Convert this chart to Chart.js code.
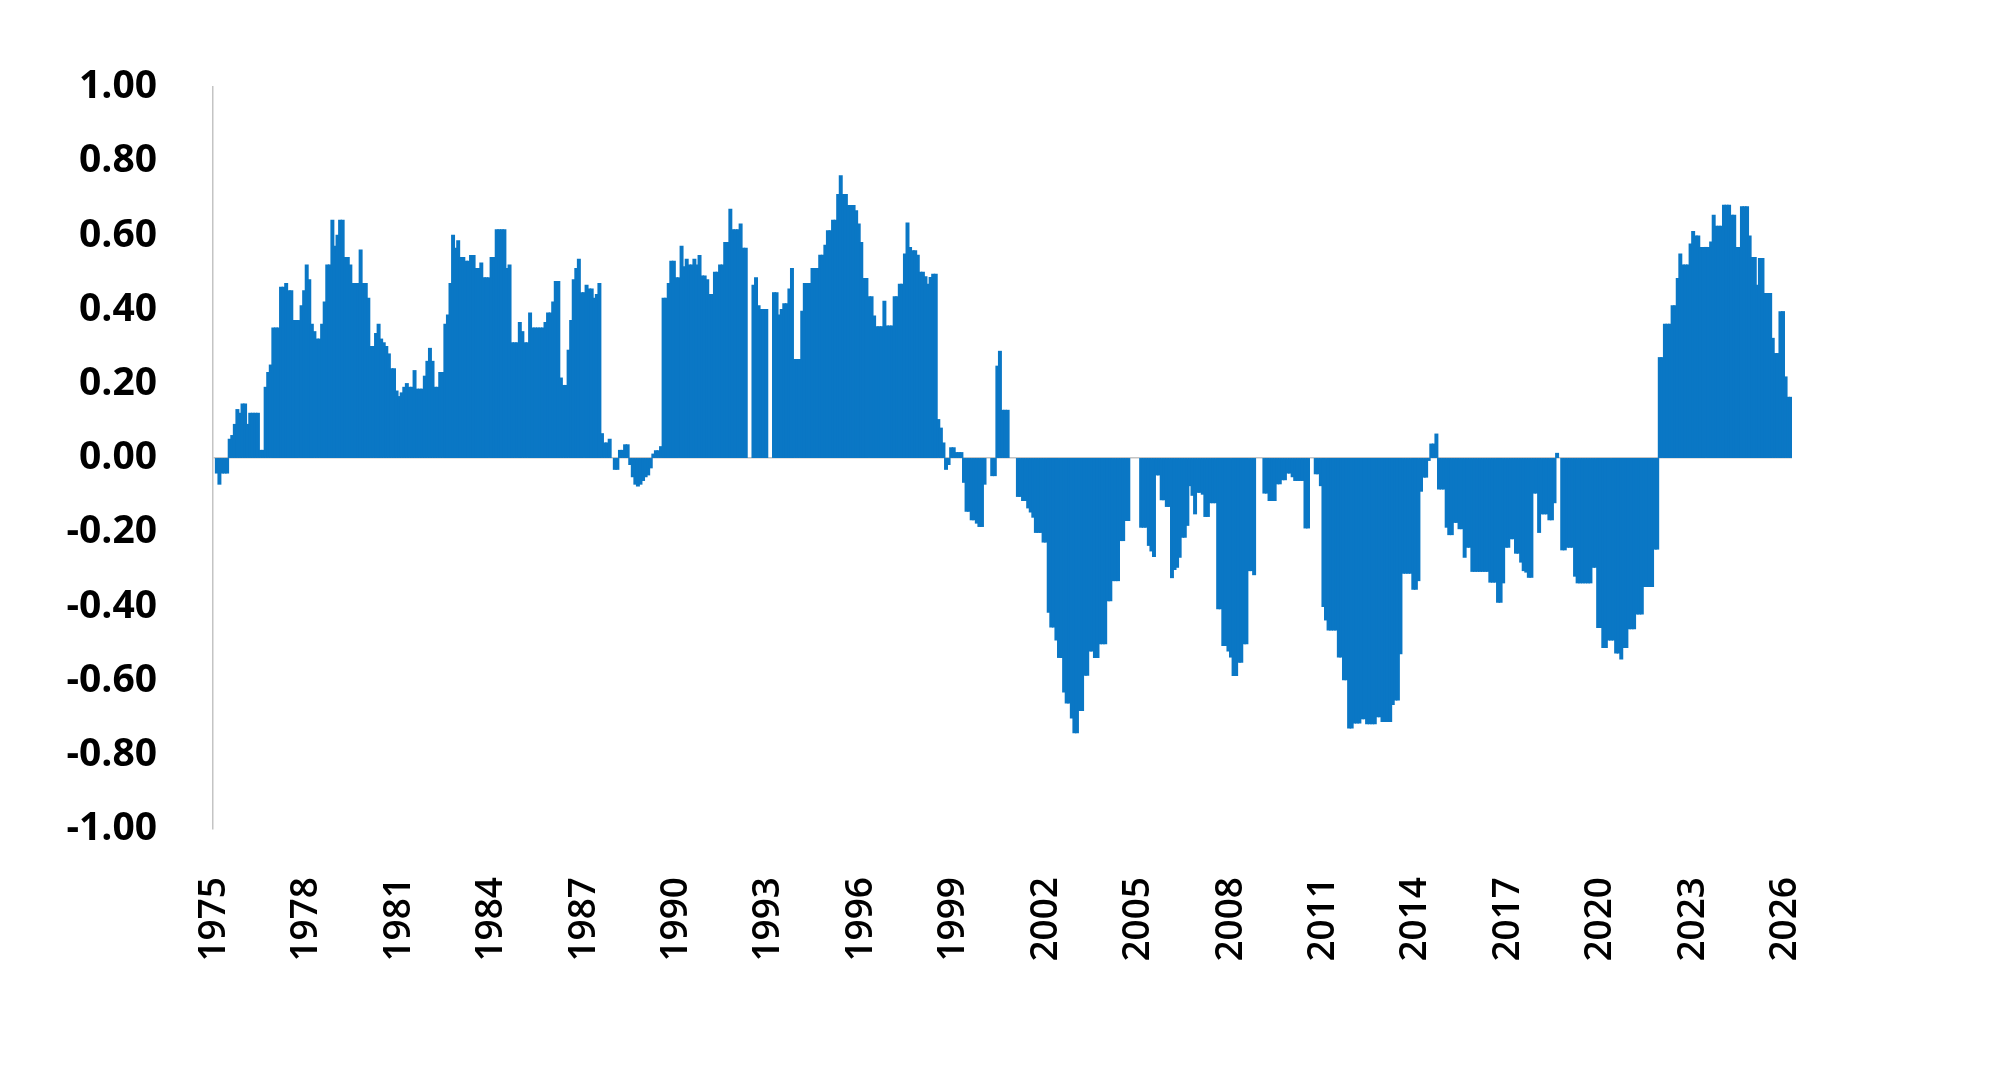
<!DOCTYPE html>
<html><head><meta charset="utf-8">
<script src="https://cdn.jsdelivr.net/npm/chart.js@4.4.1/dist/chart.umd.min.js"></script>
<style>html,body{margin:0;padding:0;background:#fff;} #wrap{width:2000px;height:1065px;}</style>
</head><body><div id="wrap"><canvas id="c" width="2000" height="1065"></canvas></div>
<script>
// Monthly values, Jan 1975 .. Mar 2026
const v1975_1979 = [
 0.00,-0.04,-0.07,-0.04,-0.04,-0.04,0.05,0.06,0.09,0.13,0.12,0.145,
 0.145,0.09,0.12,0.12,0.12,0.12,0.02,0.02,0.19,0.23,0.25,0.35,
 0.35,0.35,0.46,0.46,0.47,0.45,0.45,0.37,0.37,0.37,0.41,0.45,
 0.52,0.48,0.36,0.34,0.32,0.32,0.36,0.42,0.52,0.52,0.64,0.57,
 0.60,0.64,0.64,0.54,0.54,0.52,0.47,0.47,0.47,0.56,0.47,0.47
];
const v1980_1989 = [
 0.43,0.30,0.30,0.335,0.36,0.32,0.31,0.30,0.28,0.24,0.24,0.18,
 0.165,0.175,0.19,0.20,0.19,0.19,0.235,0.185,0.185,0.185,0.22,0.26,
 0.295,0.26,0.19,0.19,0.23,0.23,0.36,0.385,0.47,0.60,0.565,0.585,
 0.54,0.54,0.53,0.53,0.545,0.545,0.51,0.51,0.525,0.485,0.485,0.485,
 0.54,0.54,0.615,0.615,0.615,0.615,0.51,0.52,0.31,0.31,0.31,0.365,
 0.34,0.31,0.31,0.39,0.35,0.35,0.35,0.35,0.35,0.365,0.39,0.39,
 0.42,0.475,0.475,0.215,0.195,0.195,0.29,0.37,0.48,0.51,0.535,0.445,
 0.445,0.465,0.455,0.455,0.43,0.44,0.47,0.065,0.04,0.04,0.05,0,
 -0.03,-0.03,0.02,0.02,0.035,0.035,-0.017,-0.05,-0.07,-0.075,-0.07,-0.06,
 -0.05,-0.045,-0.026,0.01,0.019,0.019,0.03,0.43,0.43,0.47,0.53,0.53
];
const v1990_1999 = [
 0.485,0.485,0.57,0.515,0.535,0.52,0.52,0.535,0.52,0.545,0.49,0.49,
 0.48,0.44,0.44,0.50,0.50,0.52,0.52,0.58,0.58,0.67,0.615,0.615,
 0.615,0.63,0.565,0.565,0,0,0.465,0.485,0.41,0.40,0.40,0.40,
 0,0,0.445,0.445,0.385,0.40,0.415,0.415,0.455,0.51,0.265,0.265,
 0.265,0.395,0.47,0.47,0.47,0.51,0.51,0.51,0.546,0.546,0.573,0.612,
 0.612,0.64,0.64,0.71,0.76,0.71,0.71,0.68,0.68,0.68,0.666,0.63,
 0.58,0.483,0.483,0.434,0.434,0.382,0.353,0.353,0.353,0.422,0.355,0.355,
 0.355,0.434,0.434,0.468,0.468,0.549,0.633,0.567,0.558,0.558,0.546,0.50,
 0.50,0.488,0.468,0.486,0.495,0.495,0.103,0.08,0.04,-0.03,-0.017,0.027,
 0.027,0.014,0.014,0.014,-0.065,-0.143,-0.143,-0.166,-0.166,-0.175,-0.184,-0.184
];
const v2000_2009 = [
 -0.07,0,0,-0.047,-0.047,0.247,0.287,0.128,0.128,0.128,0,0,
 0,-0.103,-0.103,-0.114,-0.114,-0.134,-0.145,-0.159,-0.2,-0.2,-0.2,-0.226,
 -0.226,-0.415,-0.455,-0.455,-0.49,-0.537,-0.537,-0.63,-0.66,-0.66,-0.70,-0.74,
 -0.74,-0.68,-0.68,-0.585,-0.585,-0.52,-0.52,-0.537,-0.537,-0.50,-0.50,-0.50,
 -0.384,-0.384,-0.33,-0.33,-0.33,-0.222,-0.222,-0.168,-0.168,0,0,0,
 0,-0.186,-0.186,-0.186,-0.235,-0.25,-0.265,-0.045,-0.045,-0.112,-0.112,-0.13,
 -0.13,-0.322,-0.30,-0.294,-0.267,-0.213,-0.213,-0.181,-0.074,-0.10,-0.15,-0.092,
 -0.092,-0.097,-0.157,-0.157,-0.12,-0.12,-0.12,-0.406,-0.406,-0.505,-0.505,-0.52,
 -0.536,-0.586,-0.586,-0.55,-0.55,-0.50,-0.50,-0.303,-0.303,-0.314,0,0,
 0,-0.094,-0.094,-0.114,-0.114,-0.114,-0.069,-0.069,-0.058,-0.058,-0.04,-0.04
];
const v2010_2019 = [
 -0.05,-0.06,-0.06,-0.06,-0.06,-0.188,-0.188,0,0,-0.042,-0.042,-0.074,
 -0.40,-0.436,-0.463,-0.463,-0.463,-0.463,-0.536,-0.536,-0.597,-0.597,-0.727,-0.727,
 -0.714,-0.714,-0.714,-0.702,-0.702,-0.716,-0.716,-0.716,-0.716,-0.697,-0.697,-0.71,
 -0.71,-0.71,-0.71,-0.664,-0.652,-0.652,-0.527,-0.31,-0.31,-0.31,-0.31,-0.353,
 -0.353,-0.33,-0.089,-0.051,-0.051,-0.006,0.037,0.037,0.064,-0.083,-0.083,-0.083,
 -0.186,-0.206,-0.206,-0.173,-0.173,-0.19,-0.19,-0.267,-0.24,-0.24,-0.305,-0.305,
 -0.305,-0.305,-0.305,-0.305,-0.305,-0.334,-0.334,-0.334,-0.388,-0.388,-0.336,-0.24,
 -0.24,-0.217,-0.217,-0.256,-0.256,-0.28,-0.303,-0.307,-0.321,-0.321,-0.094,-0.094,
 -0.2,-0.15,-0.15,-0.15,-0.166,-0.166,-0.12,0.012,0,-0.247,-0.247,-0.24,
 -0.24,-0.24,-0.318,-0.336,-0.336,-0.336,-0.336,-0.336,-0.336,-0.294,-0.294,-0.456
];
const v2020_2026 = [
 -0.456,-0.51,-0.51,-0.49,-0.49,-0.49,-0.525,-0.525,-0.541,-0.51,-0.51,-0.46,
 -0.46,-0.46,-0.42,-0.42,-0.42,-0.346,-0.346,-0.346,-0.346,-0.245,-0.245,0.27,
 0.27,0.36,0.36,0.36,0.41,0.41,0.483,0.549,0.52,0.52,0.52,0.576,
 0.61,0.598,0.598,0.567,0.567,0.567,0.567,0.582,0.654,0.624,0.624,0.624,
 0.681,0.681,0.681,0.654,0.654,0.567,0.567,0.677,0.677,0.677,0.598,0.54,
 0.54,0.465,0.537,0.537,0.443,0.443,0.443,0.322,0.281,0.281,0.394,0.394,
 0.218,0.163,0.163
];
const firstYear = 1975;
const tickYears = [1975,1978,1981,1984,1987,1990,1993,1996,1999,2002,2005,2008,2011,2014,2017,2020,2023,2026];
const yTickValues = [1.0,0.8,0.6,0.4,0.2,0,-0.2,-0.4,-0.6,-0.8,-1.0];

const values = [].concat(v1975_1979, v1980_1989, v1990_1999, v2000_2009, v2010_2019, v2020_2026);
const labels = values.map((_, i) => (firstYear + Math.floor(i / 12)) + '-' + String(i % 12 + 1).padStart(2, '0'));

new Chart(document.getElementById('c').getContext('2d'), {
  type: 'bar',
  data: {
    labels: labels,
    datasets: [{
      data: values,
      backgroundColor: '#0a77c5',
      borderWidth: 0,
      barPercentage: 1,
      categoryPercentage: 1,
      inflateAmount: c => (c.raw === 0 ? 0 : 0.7)
    }]
  },
  options: {
    responsive: false,
    animation: false,
    devicePixelRatio: 1,
    layout: { padding: { top: 87, right: 208, bottom: 0, left: 0 } },
    plugins: { legend: { display: false }, tooltip: { enabled: false } },
    scales: {
      x: {
        grid: { display: false, drawTicks: false },
        border: { display: false },
        ticks: {
          autoSkip: false, maxRotation: 90, minRotation: 90, padding: 48,
          color: '#000', font: { family: 'Open Sans', size: 37, weight: '600' },
          callback: (v, i) => {
            const y = firstYear + Math.floor(i / 12);
            return (i % 12 === 0 && tickYears.includes(y)) ? String(y) : null;
          }
        },
        afterFit: s => { s.height = 236; }
      },
      y: {
        min: -1, max: 1,
        afterBuildTicks: s => { s.ticks = yTickValues.map(v => ({ value: v })); },
        grid: {
          drawTicks: false,
          color: c => (c.tick && Math.abs(c.tick.value) < 1e-9) ? '#c4c4c4' : 'rgba(0,0,0,0)',
          lineWidth: 1.5
        },
        border: { display: true, color: '#c4c4c4', width: 1.5 },
        ticks: {
          padding: 56, color: '#000',
          font: { family: 'Open Sans', size: 39, weight: 'bold' },
          callback: v => Number(v).toFixed(2)
        },
        afterFit: s => { s.width = 213; }
      }
    }
  }
});
</script>
</body></html>
